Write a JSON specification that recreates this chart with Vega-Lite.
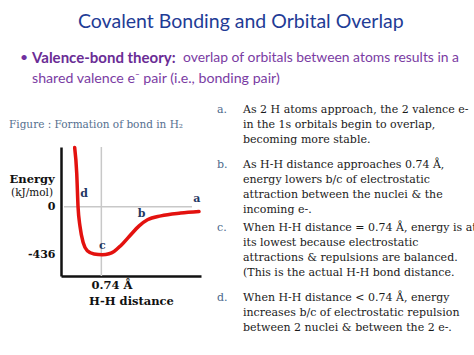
{
  "$schema": "https://vega.github.io/schema/vega-lite/v6.json",
  "background": "white",
  "padding": {"left": 9, "top": 11, "right": 0, "bottom": 0},
  "config": {"view": {"stroke": null}},
  "title": {"text": "Covalent Bonding and Orbital Overlap", "font": "Lato", "fontSize": 19.5, "fontWeight": "normal", "color": "#1f3c96", "anchor": "start", "frame": "group", "dx": 17, "offset": 19},
  "spacing": 17,
  "vconcat": [
    {
      "width": 398,
      "height": 21,
      "data": {"values": [
        {"line": "1", "pos": "start", "w": "bullet", "text": "•"},
        {"line": "1", "pos": "start", "w": "bold", "text": "Valence-bond theory:"},
        {"line": "1", "pos": "end", "w": "normal", "text": "overlap of orbitals between atoms results in a"},
        {"line": "2", "pos": "start", "w": "normal", "text": "shared valence e⁻ pair (i.e., bonding pair)"}
      ]},
      "encoding": {
        "x": {"field": "pos", "type": "nominal", "scale": {"type": "point", "domain": ["start", "end"], "range": [-29, 398], "padding": 0}, "axis": null},
        "y": {"field": "line", "type": "nominal", "scale": {"type": "point", "domain": ["1", "2"], "range": [0, 21], "padding": 0}, "axis": null},
        "text": {"field": "text"}
      },
      "layer": [
        {"transform": [{"filter": "datum.w === 'bullet'"}], "mark": {"type": "text", "align": "left", "baseline": "middle", "dx": -12, "font": "Lato", "fontSize": 14, "color": "#7030a0"}},
        {"transform": [{"filter": "datum.w === 'bold'"}], "mark": {"type": "text", "align": "left", "baseline": "middle", "font": "Lato", "fontSize": 15, "fontWeight": "bold", "color": "#6a2c95"}},
        {"transform": [{"filter": "datum.w === 'normal' && datum.pos === 'start'"}], "mark": {"type": "text", "align": "left", "baseline": "middle", "font": "Lato", "fontSize": 14.2, "color": "#7a3ca3"}},
        {"transform": [{"filter": "datum.pos === 'end'"}], "mark": {"type": "text", "align": "right", "baseline": "middle", "font": "Lato", "fontSize": 13.9, "color": "#7a3ca3"}}
      ]
    },
    {
      "spacing": 10,
      "hconcat": [
        {
          "width": 140,
          "height": 129,
          "title": {"text": "Figure : Formation of bond in H₂", "anchor": "start", "frame": "bounds", "font": "DejaVu Serif", "fontSize": 10.5, "fontWeight": "normal", "color": "#56708f", "offset": 10},
          "layer": [
            {
              "data": {"values": [{"d": 0.74}]},
              "mark": {"type": "rule", "color": "#c8c8c8", "strokeWidth": 1.5},
              "encoding": {"x": {"field": "d", "type": "quantitative", "scale": {"domain": [0.25, 1.95], "nice": false, "zero": false},
                  "axis": {"values": [0.74], "labelExpr": "'0.74 Å'", "title": "H-H distance", "ticks": false, "grid": false,
                    "domainColor": "#111111", "domainWidth": 2.5, "labelFont": "DejaVu Serif", "labelFontWeight": "bold", "labelFontSize": 11.5,
                    "labelColor": "#111111", "labelPadding": 3, "labelOffset": 10, "titleFont": "DejaVu Serif", "titleFontSize": 11.5, "titleFontWeight": "bold",
                    "titleColor": "#111111", "titlePadding": 5}}}
            },
            {
              "data": {"values": [{"d": 0.286, "d2": 1.841, "e": 0}]},
              "mark": {"type": "rule", "color": "#c8c8c8", "strokeWidth": 1.5},
              "encoding": {
                "x": {"field": "d", "type": "quantitative"},
                "x2": {"field": "d2"},
                "y": {"field": "e", "type": "quantitative", "scale": {"domain": [-630, 545], "nice": false, "zero": false},
                  "axis": {"values": [0, -436], "labelExpr": "datum.value == 0 ? '0' : '-436'", "ticks": false, "grid": false, "domainColor": "#111111", "domainWidth": 2.5,
                    "labelFont": "DejaVu Serif", "labelFontWeight": "bold", "labelFontSize": 11, "labelColor": "#111111", "labelPadding": 6,
                    "title": "Energy", "titleAngle": 0, "titleAlign": "left", "titleBaseline": "middle", "titleX": -52, "titleY": 32,
                    "titleFont": "DejaVu Serif", "titleFontSize": 11.5, "titleFontWeight": "bold", "titleColor": "#111111"}}
              }
            },
            {
              "data": {"values": [
                {"d": 0.416, "e": 540}, {"d": 0.441, "e": 306}, {"d": 0.457, "e": 0}, {"d": 0.481, "e": -179},
                {"d": 0.521, "e": -330}, {"d": 0.569, "e": -400}, {"d": 0.651, "e": -430}, {"d": 0.752, "e": -436},
                {"d": 0.833, "e": -427}, {"d": 0.894, "e": -406}, {"d": 0.975, "e": -354}, {"d": 1.078, "e": -270},
                {"d": 1.199, "e": -173}, {"d": 1.30, "e": -118}, {"d": 1.463, "e": -82}, {"d": 1.703, "e": -57},
                {"d": 1.926, "e": -43}
              ]},
              "mark": {"type": "line", "color": "#e3120f", "strokeWidth": 3.5, "interpolate": "monotone", "strokeCap": "round"},
              "encoding": {
                "x": {"field": "d", "type": "quantitative"},
                "y": {"field": "e", "type": "quantitative"}
              }
            },
            {
              "data": {"values": [{"t": "(kJ/mol)", "d": -0.102, "e": 127}]},
              "mark": {"type": "text", "font": "DejaVu Serif", "fontSize": 10.5, "color": "#111111", "baseline": "middle"},
              "encoding": {"x": {"field": "d", "type": "quantitative"}, "y": {"field": "e", "type": "quantitative"}, "text": {"field": "t"}}
            },
            {
              "data": {"values": [
                {"t": "d", "d": 0.529, "e": 115},
                {"t": "c", "d": 0.752, "e": -354},
                {"t": "b", "d": 1.23, "e": -64},
                {"t": "a", "d": 1.898, "e": 73}
              ]},
              "mark": {"type": "text", "font": "DejaVu Serif", "fontSize": 11, "fontWeight": "bold", "color": "#1f3864", "baseline": "middle"},
              "encoding": {"x": {"field": "d", "type": "quantitative"}, "y": {"field": "e", "type": "quantitative"}, "text": {"field": "t"}}
            }
          ]
        },
        {
          "width": 24,
          "height": 188,
          "data": {"values": [
            {"para": "a", "col": "label", "text": "a."},
            {"para": "a", "col": "body", "text": ["As 2 H atoms approach, the 2 valence e-", "in the 1s orbitals begin to overlap,", "becoming more stable."]},
            {"para": "b", "col": "label", "text": "b."},
            {"para": "b", "col": "body", "text": ["As H-H distance approaches 0.74 Å,", "energy lowers b/c of electrostatic", "attraction between the nuclei & the", "incoming e-."]},
            {"para": "c", "col": "label", "text": "c."},
            {"para": "c", "col": "body", "text": ["When H-H distance = 0.74 Å, energy is at", "its lowest because electrostatic", "attractions & repulsions are balanced.", "(This is the actual H-H bond distance."]},
            {"para": "d", "col": "label", "text": "d."},
            {"para": "d", "col": "body", "text": ["When H-H distance < 0.74 Å, energy", "increases b/c of electrostatic repulsion", "between 2 nuclei & between the 2 e-."]}
          ]},
          "encoding": {
            "x": {"field": "col", "type": "nominal", "scale": {"type": "point", "domain": ["label", "body"], "range": [-2, 24], "padding": 0}, "axis": null},
            "y": {"field": "para", "type": "nominal", "scale": {"type": "point", "domain": ["a", "b", "c", "d"], "range": [-22, 166], "padding": 0}, "axis": null},
            "text": {"field": "text"},
            "color": {"field": "col", "type": "nominal", "scale": {"domain": ["label", "body"], "range": ["#4d6a8c", "#1a1a1a"]}, "legend": null}
          },
          "layer": [
            {"transform": [{"filter": "datum.para === 'a' || datum.para === 'd'"}], "mark": {"type": "text", "align": "left", "baseline": "middle", "font": "DejaVu Serif", "fontSize": 11, "lineHeight": 15, "dy": -15}},
            {"transform": [{"filter": "datum.para === 'b' || datum.para === 'c'"}], "mark": {"type": "text", "align": "left", "baseline": "middle", "font": "DejaVu Serif", "fontSize": 11, "lineHeight": 15, "dy": -22.5}}
          ]
        }
      ]
    }
  ]
}
